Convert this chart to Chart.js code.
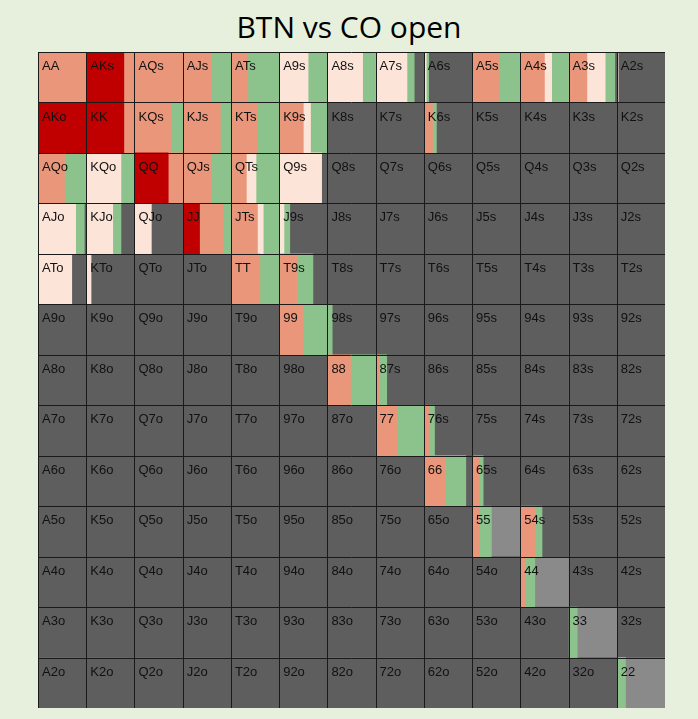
<!DOCTYPE html>
<html>
<head>
<meta charset="utf-8">
<script src="https://cdn.jsdelivr.net/npm/chart.js@4.4.1/dist/chart.umd.min.js"></script>
<style>
  body { margin:0; background:#E6F0DC; width:698px; height:719px; overflow:hidden; }
  h1 { position:absolute; left:0; top:6px; width:698px; margin:0; text-align:center;
       font-family:'Open Sans', sans-serif; font-weight:normal; font-size:30px; color:#000; }
  #wrap { position:absolute; left:38px; top:52px; width:627px; height:656px; }
</style>
</head>
<body>
<h1>BTN vs CO open</h1>
<div id="wrap"><canvas id="grid"></canvas></div>
<script>
// ── DATA ──
const RANKS = ['A','K','Q','J','T','9','8','7','6','5','4','3','2'];
const ACTIONS = ['4bet','3bet','3bet bluff','call','fold','limp'];
const ACTION_COLORS = ['#C00000','#E9967A','#FDE4D8','#8CC38C','#5E5E5E','#8A8A8A'];

// percent per action, left to right; hands not listed are pure fold
const mixes = {
  AA:[0,100,0,0,0,0], AKs:[78,22,0,0,0,0], AQs:[0,100,0,0,0,0], AJs:[0,60,0,40,0,0],
  ATs:[0,35,0,65,0,0], A9s:[0,0,60,40,0,0], A8s:[0,0,73,27,0,0], A7s:[0,0,65,15,20,0],
  A6s:[0,0,5,5,90,0], A5s:[0,55,0,45,0,0], A4s:[0,50,15,35,0,0], A3s:[0,38,38,20,4,0],
  A2s:[0,0,3,0,97,0],
  AKo:[100,0,0,0,0,0], KK:[78,22,0,0,0,0], KQs:[0,75,0,25,0,0], KJs:[0,78,0,22,0,0],
  KTs:[0,55,0,45,0,0], K9s:[0,50,15,35,0,0], K6s:[0,18,0,8,74,0],
  AQo:[0,55,0,45,0,0], KQo:[0,0,72,28,0,0], QQ:[70,30,0,0,0,0], QJs:[0,60,0,40,0,0],
  QTs:[0,32,20,48,0,0], Q9s:[0,0,88,0,12,0],
  AJo:[0,0,78,18,4,0], KJo:[0,0,55,17,28,0], QJo:[0,0,35,0,65,0], JJ:[35,50,0,15,0,0],
  JTs:[0,55,12,33,0,0], J9s:[0,0,10,12,78,0],
  ATo:[0,0,70,0,30,0], KTo:[0,0,10,0,90,0], TT:[0,60,0,40,0,0], T9s:[0,38,0,32,30,0],
  '99':[0,50,0,50,0,0], '98s':[0,0,0,10,90,0],
  '88':[0,48,0,52,0,0], '87s':[0,8,0,15,77,0],
  '77':[0,45,0,55,0,0], '76s':[0,12,0,10,78,0],
  '66':[0,45,0,42,13,0], '65s':[0,15,0,8,77,0],
  '55':[0,15,0,25,0,60], '54s':[0,30,0,15,55,0],
  '44':[0,10,0,20,0,70], '33':[0,0,0,18,0,82], '22':[0,0,0,18,0,82]
};

function handName(r, c) {
  if (r === c) return RANKS[r] + RANKS[c];
  return r < c ? RANKS[r] + RANKS[c] + 's' : RANKS[c] + RANKS[r] + 'o';
}

// ── DATASETS: one floating bar set per (column, action) ──
const datasets = [];
for (let c = 0; c < 13; c++) {
  ACTIONS.forEach((a, k) => {
    const data = RANKS.map((_, r) => {
      const mix = mixes[handName(r, c)] || [0,0,0,0,100,0];
      if (!mix[k]) return null;
      let start = 0;
      for (let j = 0; j < k; j++) start += mix[j];
      return [c + start / 100, c + (start + mix[k]) / 100];
    });
    datasets.push({ label: a, data, backgroundColor: ACTION_COLORS[k], borderWidth: 0,
      barPercentage: 1, categoryPercentage: 1, grouped: false });
  });
}

const cellPlugin = {
  id: 'cells',
  afterDatasetsDraw(chart) {
    const { ctx, chartArea: a, scales: { x, y } } = chart;
    ctx.save();
    ctx.strokeStyle = '#1a1a1a';
    ctx.lineWidth = 1;
    for (let i = 0; i <= 13; i++) {
      const px = Math.round(x.getPixelForValue(i)) + 0.5;
      ctx.beginPath(); ctx.moveTo(px, a.top); ctx.lineTo(px, a.bottom); ctx.stroke();
      const py = Math.round(a.top + (a.bottom - a.top) * i / 13) + 0.5;
      ctx.beginPath(); ctx.moveTo(a.left, py); ctx.lineTo(a.right, py); ctx.stroke();
    }
    ctx.fillStyle = '#111';
    ctx.font = '13px "Liberation Sans", Arial, sans-serif';
    ctx.textBaseline = 'top';
    const h = (a.bottom - a.top) / 13;
    for (let r = 0; r < 13; r++) {
      for (let c = 0; c < 13; c++) {
        ctx.fillText(handName(r, c), x.getPixelForValue(c) + 4, a.top + h * r + 8);
      }
    }
    ctx.restore();
  }
};

new Chart(document.getElementById('grid'), {
  type: 'bar',
  data: { labels: RANKS, datasets },
  options: {
    indexAxis: 'y',
    responsive: true, maintainAspectRatio: false, animation: false,
    layout: { padding: 0 },
    scales: {
      x: { type: 'linear', min: 0, max: 13, display: false },
      y: { display: false }
    },
    plugins: { legend: { display: false }, tooltip: { enabled: false } }
  },
  plugins: [cellPlugin]
});
</script>
</body>
</html>
